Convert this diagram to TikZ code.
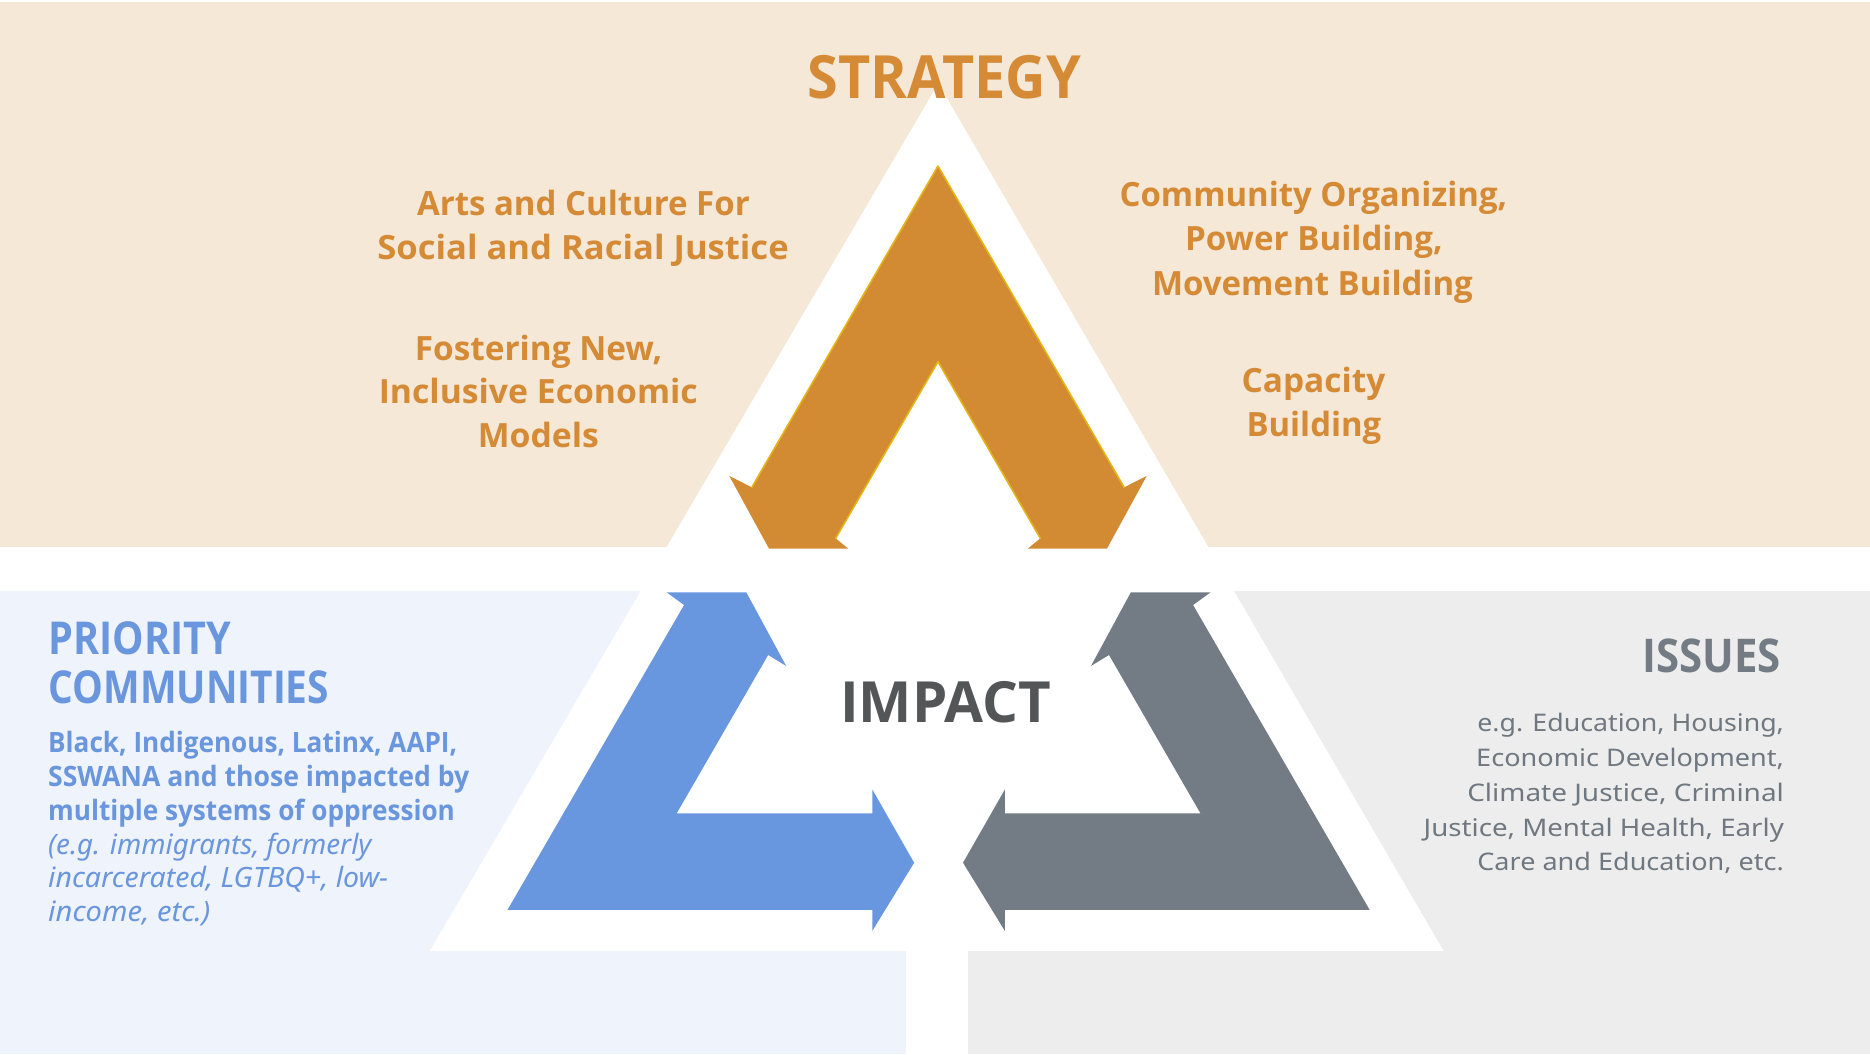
\documentclass[tikz,border=0pt]{standalone}
\usepackage{graphicx}
\usepackage{fontspec}
\setmainfont{Noto Sans}
\newfontfamily\boldfam{Open Sans}
\newfontfamily\impactfont{Open Sans}
\definecolor{beige}{HTML}{F5E8D7}
\definecolor{bluebg}{HTML}{EFF3FC}
\definecolor{greybg}{HTML}{EDEDED}
\definecolor{orangeA}{HTML}{D38B33}
\definecolor{orangeT}{HTML}{D58A36}
\definecolor{goldline}{HTML}{E7B416}
\definecolor{blueA}{HTML}{6896DF}
\definecolor{blueT}{HTML}{6A96DE}
\definecolor{greyA}{HTML}{737C85}
\definecolor{greyT}{HTML}{6F7780}
\definecolor{impactc}{HTML}{545557}
\newcommand\fitw[2]{\resizebox{#1pt}{\height}{#2}}
\tikzset{
  txt/.style={inner sep=0pt, outer sep=0pt},
  orangebody/.style={txt, text=orangeT, anchor=base, font=\boldfam\fontsize{28}{34}\selectfont\bfseries},
  orangehead/.style={txt, text=orangeT, anchor=base, font=\boldfam\fontsize{50}{56}\selectfont\bfseries},
  bluehead/.style={txt, text=blueT, anchor=base west, font=\boldfam\fontsize{38}{44}\selectfont\bfseries},
  bluebody/.style={txt, text=blueT, anchor=base west, font=\boldfam\fontsize{23.5}{28}\selectfont\bfseries},
  blueital/.style={txt, text=blueT, anchor=base west, font=\fontsize{23.5}{28}\selectfont\itshape},
  greyhead/.style={txt, text=greyA, anchor=base east, font=\boldfam\fontsize{39}{44}\selectfont\bfseries},
  greybody/.style={txt, text=greyT, anchor=base east, font=\fontsize{20.3}{26}\selectfont},
  impacthead/.style={txt, text=impactc, anchor=base, font=\impactfont\fontsize{47.6}{52}\selectfont\bfseries},
  edge/.style={goldline, line width=1.3pt, line join=round, line cap=round}
}
\begin{document}
\begin{tikzpicture}[x=1pt,y=1pt]
\useasboundingbox (0,0) rectangle (1568,-884);
\fill[white] (0,0) rectangle (1568,-884);
% background panels
\fill[beige] (0,-1.5) rectangle (1568,-458.4);
\fill[bluebg] (0,-495.6) rectangle (760,-884);
\fill[greybg] (812,-495.6) rectangle (1568,-884);
% white triangle
\fill[white] (786.8,-70) -- (360.5,-797.2) -- (1210.3,-797.2) -- cycle;
% orange chevron
\fill[orangeA] (786.5,-139.2) -- (630.4,-408.6) -- (611.5,-399.1) -- (644.8,-460) -- (711.2,-460) -- (700.7,-451.4) -- (786.5,-303.3) -- (872.3,-451.4) -- (861.8,-460) -- (928.2,-460) -- (961.5,-399.1) -- (942.6,-408.6) -- cycle;
\draw[edge] (630.4,-408.6) -- (786.5,-139.2) -- (942.6,-408.6);
\draw[edge] (700.7,-451.4) -- (786.5,-303.3) -- (872.3,-451.4);
% blue arrow
\fill[blueA] (559,-496.7) -- (625.8,-496.7) -- (659.2,-558.4) -- (644.1,-549.2) -- (567.4,-682) -- (731.4,-682) -- (731.4,-661.9) -- (766.5,-723.4) -- (731.4,-780.6) -- (731.4,-763) -- (425.5,-763) -- (573.6,-507.3) -- cycle;
% grey arrow
\fill[greyA] (1015,-496.7) -- (948.2,-496.7) -- (914.8,-558.4) -- (929.9,-549.2) -- (1006.6,-682) -- (842.6,-682) -- (842.6,-661.9) -- (807.5,-723.4) -- (842.6,-780.6) -- (842.6,-763) -- (1148.5,-763) -- (1000.4,-507.3) -- cycle;
% STRATEGY
\node[orangehead] (strategy) at (791.8,-82.5) {\fitw{229}{STRATEGY}};
\node[orangebody] (arts1) at (489.2,-180.3) {\fitw{279}{Arts and Culture For}};
\node[orangebody] (arts2) at (488.9,-217.5) {\fitw{345}{Social and Racial Justice}};
\node[orangebody] (fost1) at (451.6,-301.9) {\fitw{207.5}{Fostering New,}};
\node[orangebody] (fost2) at (451.4,-338.2) {\fitw{267.5}{Inclusive Economic}};
\node[orangebody] (fost3) at (451.4,-375) {\fitw{101.5}{Models}};
\node[orangebody] (comm1) at (1101.3,-173.3) {\fitw{325}{Community Organizing,}};
\node[orangebody] (comm2) at (1101.7,-210.2) {\fitw{216}{Power Building,}};
\node[orangebody] (comm3) at (1100.5,-247.4) {\fitw{269}{Movement Building}};
\node[orangebody] (cap1) at (1101.3,-329) {\fitw{120.5}{Capacity}};
\node[orangebody] (cap2) at (1101.7,-365.6) {\fitw{113}{Building}};
% IMPACT
\node[impacthead] (impact) at (792.9,-605.7) {\fitw{177}{IMPACT}};
% Priority communities
\node[bluehead] (prio1) at (40.9,-548.4) {\fitw{153}{PRIORITY}};
\node[bluehead] (prio2) at (40.9,-589.8) {\fitw{235}{COMMUNITIES}};
\node[bluebody] (pb1) at (40.4,-631.1) {\fitw{343}{Black, Indigenous, Latinx, AAPI,}};
\node[bluebody] (pb2) at (40.4,-659.1) {\fitw{353}{SSWANA and those impacted by}};
\node[bluebody] (pb3) at (40.4,-687.6) {\fitw{341}{multiple systems of oppression}};
\node[blueital] (pi1) at (40.4,-716.1) {\fitw{271}{(e.g. immigrants, formerly}};
\node[blueital] (pi2) at (40.4,-744) {\fitw{285}{incarcerated, LGTBQ+, low-}};
\node[blueital] (pi3) at (40.4,-772.8) {\fitw{136}{income, etc.)}};
% Issues
\node[greyhead] (issues) at (1493,-563.8) {\fitw{116}{ISSUES}};
\node[greybody] (is1) at (1495.8,-613.5) {\fitw{257}{e.g. Education, Housing,}};
\node[greybody] (is2) at (1495.8,-642.9) {\fitw{258}{Economic Development,}};
\node[greybody] (is3) at (1495.8,-672.2) {\fitw{265.5}{Climate Justice, Criminal}};
\node[greybody] (is4) at (1495.8,-701) {\fitw{302}{Justice, Mental Health, Early}};
\node[greybody] (is5) at (1495.8,-730) {\fitw{257}{Care and Education, etc.}};
\end{tikzpicture}
\end{document}
